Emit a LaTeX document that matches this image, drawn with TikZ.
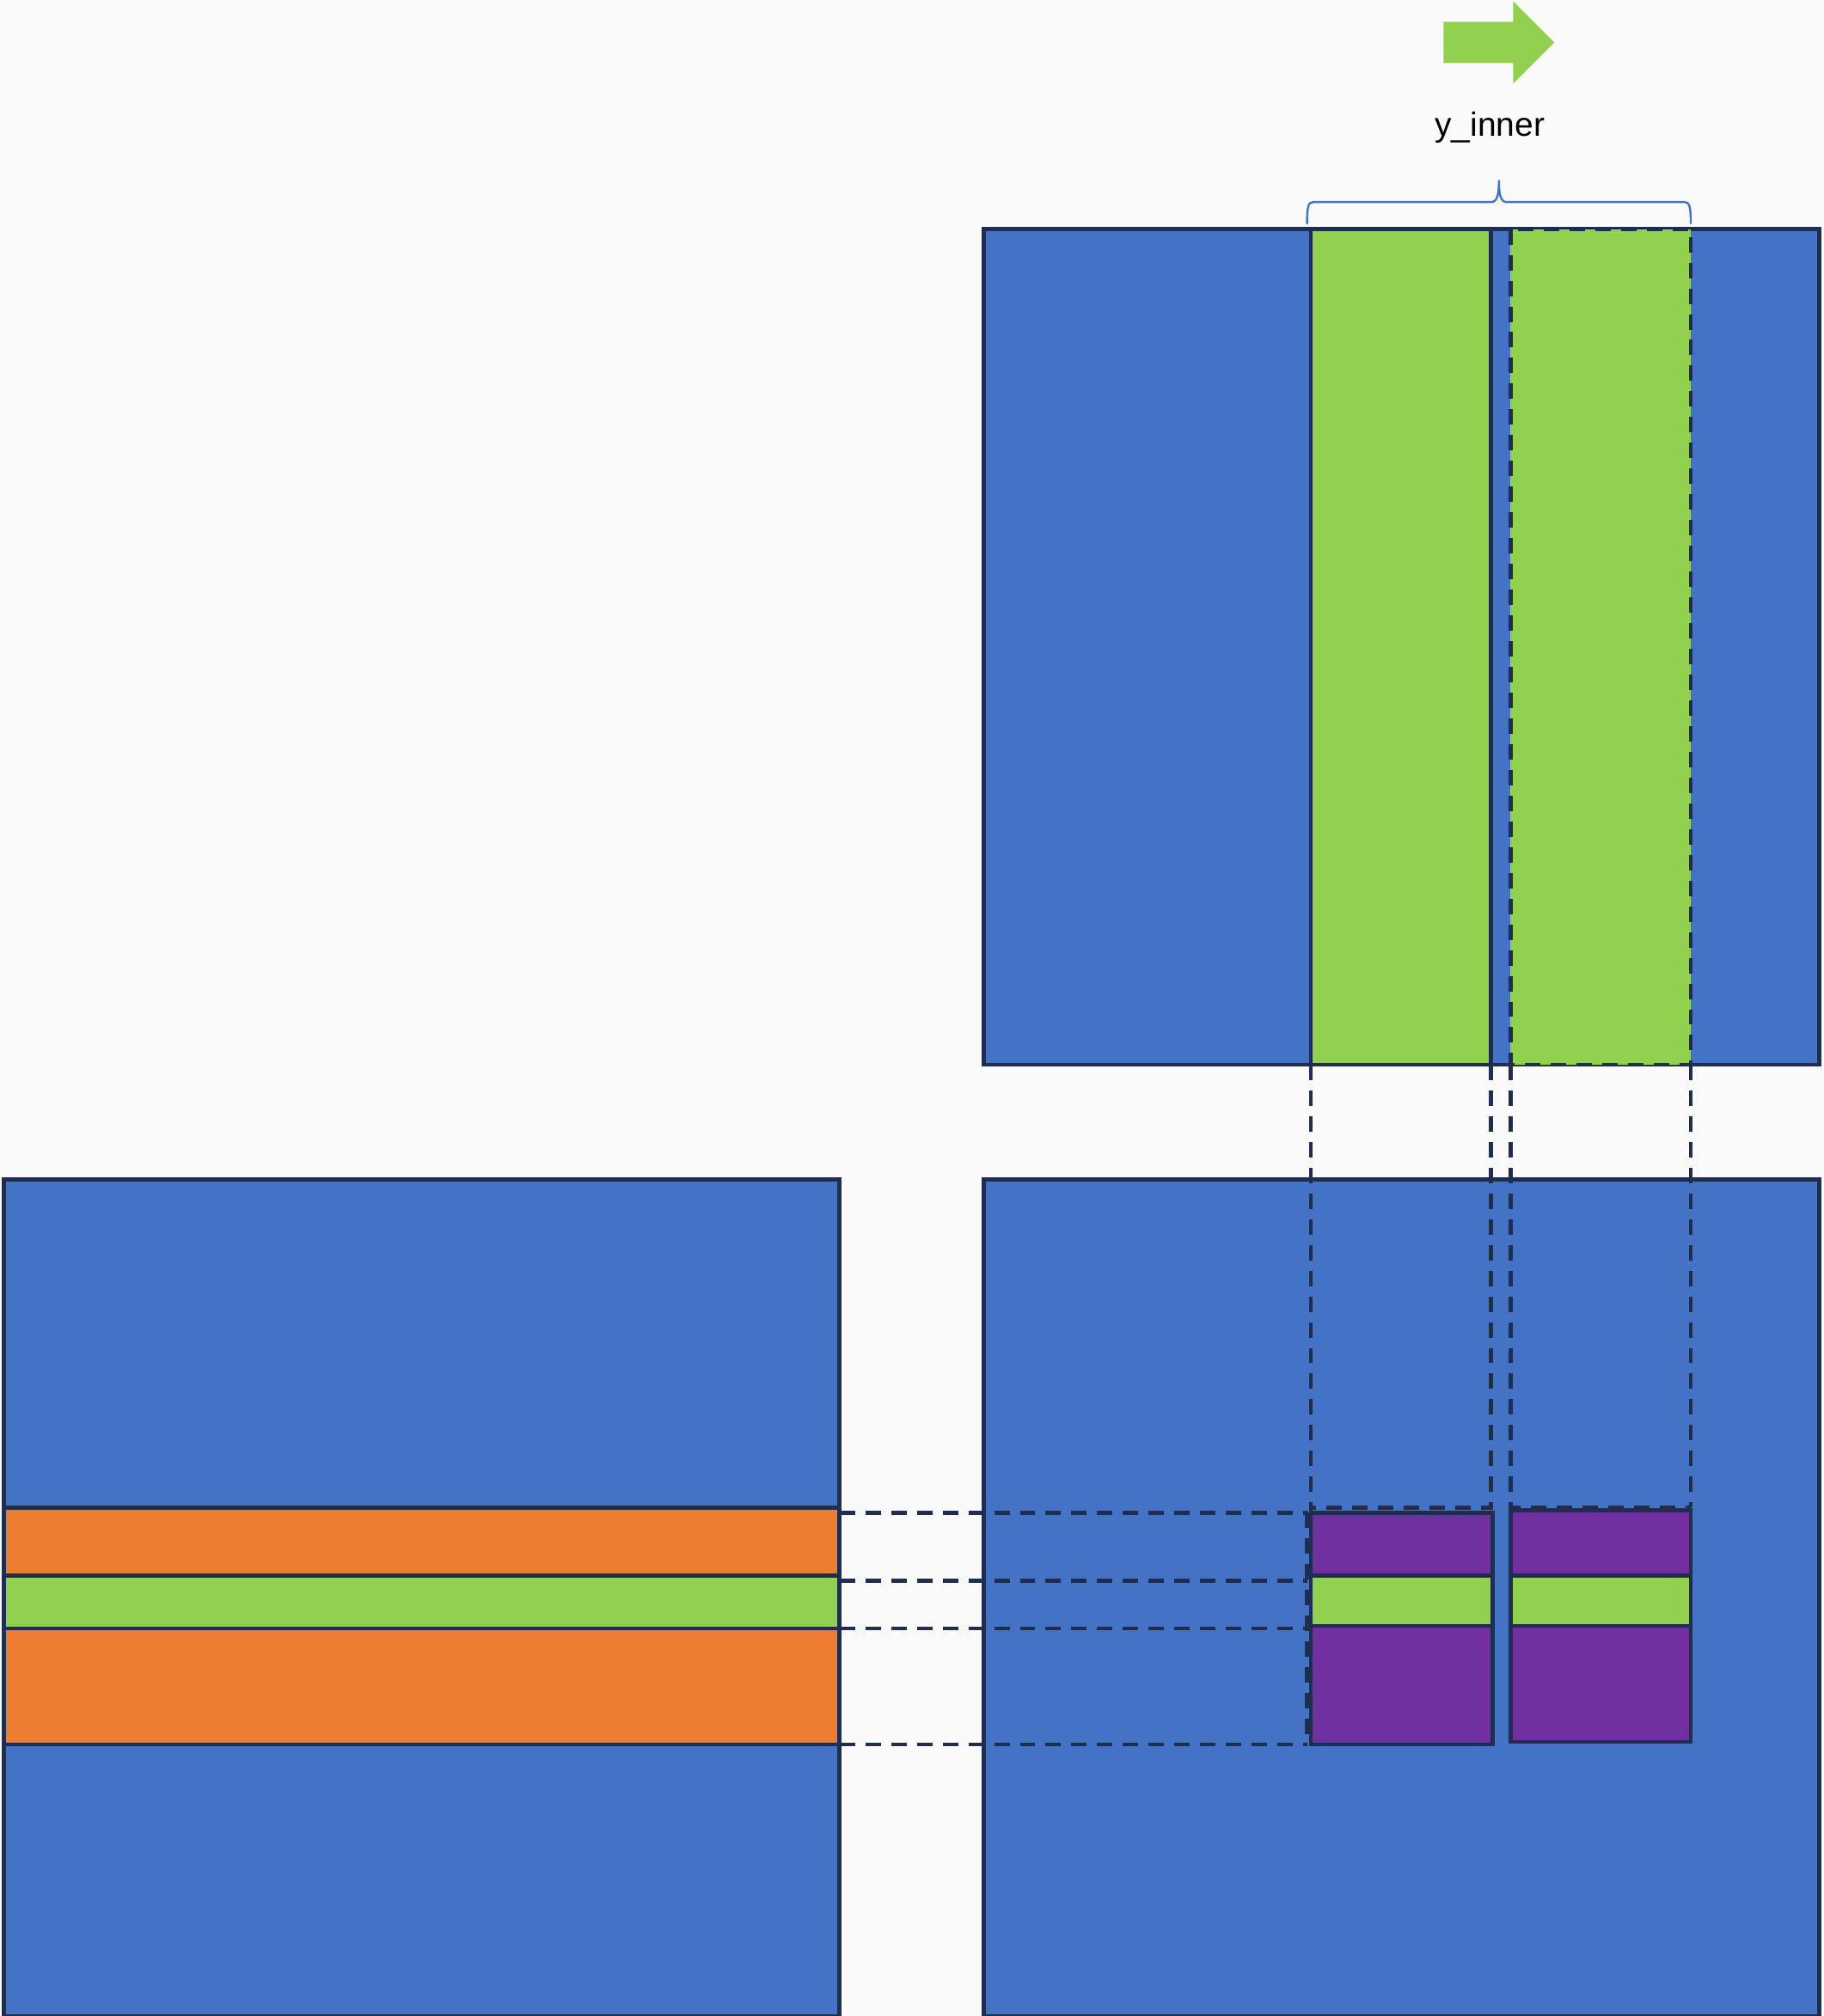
\documentclass[tikz,border=0pt]{standalone}
\usepackage{fontspec}
\setmainfont{Liberation Sans}
\definecolor{mblue}{HTML}{4472C4}
\definecolor{mgreen}{HTML}{92D050}
\definecolor{morange}{HTML}{ED7D31}
\definecolor{mpurple}{HTML}{7030A0}
\definecolor{edge}{HTML}{1F2D50}
\begin{document}
\begin{tikzpicture}[x=0.5pt,y=-0.5pt,
  box/.style={draw=edge,line width=1.6pt},
  guide/.style={draw=edge,line width=1.6pt,dash pattern=on 6pt off 4pt}]
\useasboundingbox[fill=white!98!black] (0,0) rectangle (1416,1566);
% top right matrix
\path[box,fill=mblue] (764,178) rectangle (1413,827);
\path[box,fill=mgreen] (1018,178) rectangle (1158,827);
\path[fill=mgreen] (1173,178) rectangle (1313,827);
\path[guide] (1173,178) rectangle (1313,827);
% brace
\draw[mblue,line width=0.8pt] (1015,174) .. controls (1015,160) and (1016,157) .. (1020,157) -- (1158,157) .. controls (1163,157) and (1164,150) .. (1164,140) .. controls (1164,150) and (1165,157) .. (1170,157) -- (1308,157) .. controls (1312,157) and (1313,160) .. (1313,174);
\node (lbl) at (1157,99) {\fontsize{13pt}{15pt}\selectfont y\_inner};
% green arrow
\fill[mgreen] (1121,17) -- (1175,17) -- (1175,1) -- (1207,33) -- (1175,65) -- (1175,49) -- (1121,49) -- cycle;
% bottom left
\path[box,fill=mblue] (3,916) rectangle (652,1566);
\path[box,fill=morange] (3,1171) rectangle (652,1224);
\path[box,fill=mgreen] (3,1224) rectangle (652,1265);
\path[box,fill=morange] (3,1265) rectangle (652,1355);
% bottom right
\path[box,fill=mblue] (764,916) rectangle (1413,1566);
\path[box,fill=mpurple] (1018,1175) rectangle (1159,1355);
\path[box,fill=mgreen] (1018,1224) rectangle (1159,1263);
\path[box,fill=mpurple] (1173,1173) rectangle (1313,1353);
\path[box,fill=mgreen] (1173,1224) rectangle (1313,1263);
% dashed guides
\draw[guide] (1018,827) -- (1018,1175);
\draw[guide] (1158,827) -- (1158,1171) -- (1018,1171);
\draw[guide] (1173,827) -- (1173,1171) -- (1313,1171);
\draw[guide] (1313,827) -- (1313,1171);
\draw[guide] (652,1175) -- (1015,1175);
\draw[guide] (652,1228) -- (1015,1228);
\draw[guide] (652,1265) -- (1015,1265);
\draw[guide] (652,1355) -- (1015,1355);
\draw[guide] (1015,1175) -- (1015,1355);
\end{tikzpicture}
\end{document}
